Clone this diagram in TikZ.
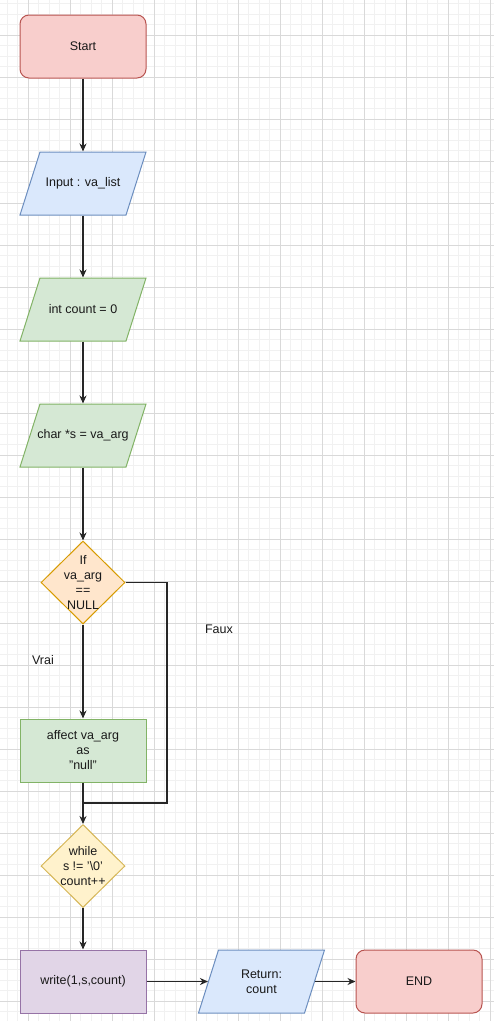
\documentclass[tikz,border=0pt]{standalone}
\usepackage{fontspec}
\setmainfont{Liberation Sans}
\usetikzlibrary{shapes.geometric,arrows.meta}

\definecolor{redfill}{HTML}{F8CECC}
\definecolor{redline}{HTML}{B85450}
\definecolor{bluefill}{HTML}{DAE8FC}
\definecolor{blueline}{HTML}{6C8EBF}
\definecolor{greenfill}{HTML}{D5E8D4}
\definecolor{greenline}{HTML}{82B366}
\definecolor{orangefill}{HTML}{FFE6CC}
\definecolor{orangeline}{HTML}{D79B00}
\definecolor{yellowfill}{HTML}{FFF2CC}
\definecolor{yellowline}{HTML}{D6B656}
\definecolor{purplefill}{HTML}{E1D5E7}
\definecolor{purpleline}{HTML}{9673A6}
\definecolor{minorgrid}{HTML}{F1F1F1}
\definecolor{majorgrid}{HTML}{D9D9D9}

\tikzset{
  every node/.style={font=\fontsize{12.5}{15}\selectfont, text=black!90},
  every label/.style={align=center},
  terminal/.style={rectangle, rounded corners=9pt, minimum width=126pt, minimum height=63pt, line width=1pt, fill=redfill, draw=redline},
  io/.style={trapezium, trapezium left angle=72.4, trapezium right angle=107.6, trapezium stretches body, minimum width=126pt, inner xsep=0pt, inner ysep=31.5pt, line width=1pt},
  process/.style={rectangle, minimum width=126pt, minimum height=63pt, align=center, line width=1pt},
  decision/.style={diamond, minimum width=84pt, minimum height=83pt, inner sep=0pt, line width=1pt},
  arr/.style={-{Stealth[length=8pt,width=7pt]}, line width=1.2pt, draw=black!85},
  line/.style={line width=1.2pt, draw=black!85}
}

\begin{document}
\begin{tikzpicture}[x=1pt,y=-1pt]
\useasboundingbox[fill=white] (0,0) rectangle (494,1021);
% grid
\foreach \i in {-2,...,44} \draw[minorgrid,line width=0.8pt] ({28+10.5*\i},0) -- ({28+10.5*\i},1021);
\foreach \j in {-3,...,94} \draw[minorgrid,line width=0.8pt] (0,{35+10.5*\j}) -- (494,{35+10.5*\j});
\foreach \i in {0,...,11} \draw[majorgrid,line width=0.8pt] ({28+42*\i},0) -- ({28+42*\i},1021);
\foreach \j in {0,...,23} \draw[majorgrid,line width=0.8pt] (0,{35+42*\j}) -- (494,{35+42*\j});

% nodes
\node[terminal] (start) at (83,46.5) {Start};
\node[io, fill=bluefill, draw=blueline, label={center:Input : va\_list}] (input) at (83,183.5) {};
\node[io, fill=greenfill, draw=greenline, label={center:int count = 0}] (count) at (83,309.5) {};
\node[io, fill=greenfill, draw=greenline, label={center:char *s = va\_arg}] (chars) at (83,435.5) {};
\node[decision, fill=orangefill, draw=orangeline,
  label={center:If\\va\_arg\\==\\NULL}] (cond) at (83,582.5) {};
\node[process, fill=greenfill, draw=greenline] (affect) at (83,750.5) {affect va\_arg\\as\\"null"};
\node[decision, fill=yellowfill, draw=yellowline,
  label={center:while\\s != '\textbackslash 0'\\count++}] (loop) at (83,866) {};
\node[process, fill=purplefill, draw=purpleline] (write) at (83,981.5) {write(1,s,count)};
\node[io, fill=bluefill, draw=blueline, label={center:Return:\\count}] (ret) at (261.5,981.5) {};
\node[terminal] (end) at (419,981.5) {END};

\node (vrai) at (43,660) {Vrai};
\node (faux) at (219,629) {Faux};

\coordinate (fauxtop) at (167,582.5);
\coordinate (merge) at (83,803);

% connectors
\draw[arr] (start) -- (input);
\draw[arr] (input) -- (count);
\draw[arr] (count) -- (chars);
\draw[arr] (chars) -- (cond);
\draw[arr] (cond) -- (affect);
\draw[line] (cond.east) -- (fauxtop) |- (merge);
\draw[arr] (affect) -- (loop);
\draw[arr] (loop) -- (write);
\draw[arr] (write) -- (ret.west);
\draw[arr] (ret.east) -- (end);
\end{tikzpicture}
\end{document}
